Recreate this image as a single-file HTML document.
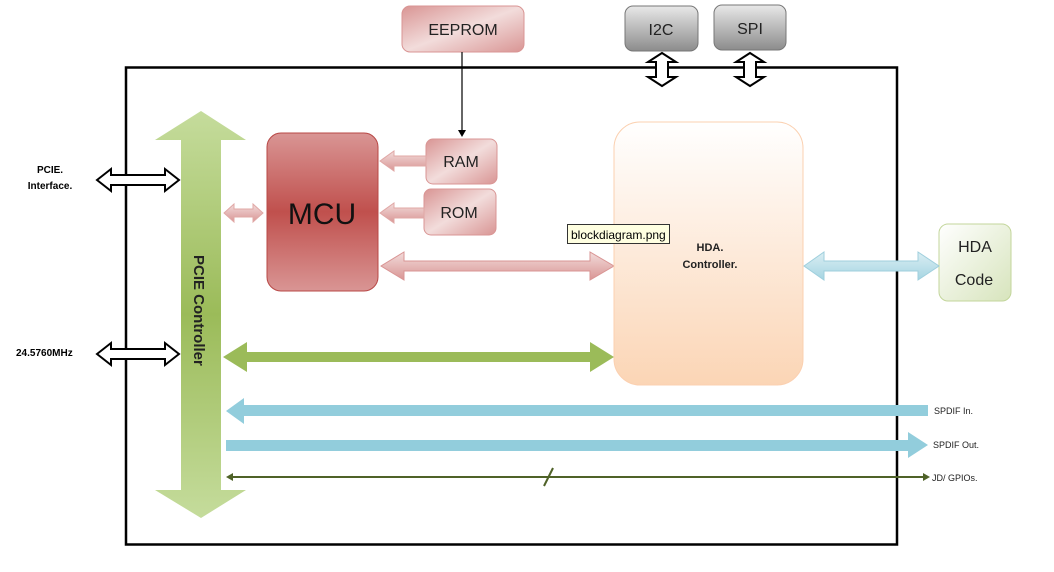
<!DOCTYPE html>
<html><head><meta charset="utf-8"><style>
html,body{margin:0;padding:0;background:#fff;}
svg{display:block;font-family:"Liberation Sans",sans-serif;}
</style></head><body>
<svg width="1054" height="572" viewBox="0 0 1054 572" xmlns="http://www.w3.org/2000/svg">
<defs>
<linearGradient id="gpc" x1="0" y1="0" x2="0" y2="1"><stop offset="0" stop-color="#c5dc9c"/><stop offset="0.5" stop-color="#9bbb59"/><stop offset="1" stop-color="#c5dc9c"/></linearGradient>
<linearGradient id="gmcu" x1="0" y1="0" x2="0" y2="1"><stop offset="0" stop-color="#d99594"/><stop offset="0.5" stop-color="#c0504d"/><stop offset="1" stop-color="#d99594"/></linearGradient>
<linearGradient id="gpink" x1="0" y1="0" x2="1" y2="1"><stop offset="0" stop-color="#d99594"/><stop offset="0.5" stop-color="#f2dcdb"/><stop offset="1" stop-color="#d99594"/></linearGradient>
<linearGradient id="ggray" x1="0" y1="0" x2="0" y2="1"><stop offset="0" stop-color="#e8e8e8"/><stop offset="1" stop-color="#8c8c8c"/></linearGradient>
<linearGradient id="ghda" x1="0" y1="0" x2="0" y2="1"><stop offset="0" stop-color="#fff"/><stop offset="1" stop-color="#fbd5b5"/></linearGradient>
<linearGradient id="gcode" x1="0" y1="0" x2="1" y2="1"><stop offset="0" stop-color="#fff"/><stop offset="1" stop-color="#d7e4bc"/></linearGradient>
<linearGradient id="gpa" x1="0" y1="0" x2="0" y2="1"><stop offset="0" stop-color="#f2dcdb"/><stop offset="1" stop-color="#d99594"/></linearGradient>
<linearGradient id="gba" x1="0" y1="0" x2="0" y2="1"><stop offset="0" stop-color="#dbeef3"/><stop offset="1" stop-color="#a5d5e2"/></linearGradient>
</defs>

<!-- main box -->
<rect x="126" y="67.5" width="771" height="477" fill="none" stroke="#000" stroke-width="2.5"/>

<!-- EEPROM -->
<rect x="402" y="6" width="122" height="46" rx="8" fill="url(#gpink)" stroke="#d99594"/>
<text x="463" y="35" font-size="16" text-anchor="middle" fill="#222">EEPROM</text>
<line x1="462" y1="52" x2="462" y2="131" stroke="#000" stroke-width="1.2"/>
<polygon points="458,130 466,130 462,137" fill="#000"/>

<!-- I2C / SPI -->
<rect x="625" y="6" width="73" height="45" rx="8" fill="url(#ggray)" stroke="#777"/>
<text x="661" y="35" font-size="16" text-anchor="middle" fill="#222">I2C</text>
<rect x="714" y="5" width="72" height="45" rx="8" fill="url(#ggray)" stroke="#777"/>
<text x="750" y="34" font-size="16" text-anchor="middle" fill="#222">SPI</text>
<polygon points="662,53 676,62 668,62 668,77 676,77 662,86 648,77 656,77 656,62 648,62" fill="#fff" stroke="#000" stroke-width="2"/>
<polygon points="750,53 764,62 756,62 756,77 764,77 750,86 736,77 744,77 744,62 736,62" fill="#fff" stroke="#000" stroke-width="2"/>

<!-- PCIE controller arrow -->
<polygon points="201,111 246,140 221,140 221,490 246,490 201,518 155,490 181,490 181,140 155,140" fill="url(#gpc)"/>
<text transform="translate(194,255) rotate(90)" font-size="15" font-weight="bold" fill="#222">PCIE Controller</text>

<!-- outline arrows left -->
<polygon points="97,180 111,169 111,175 165,175 165,169 179,180 165,191 165,185 111,185 111,191" fill="#fff" stroke="#000" stroke-width="2"/>
<polygon points="97,354 111,343 111,349 165,349 165,343 179,354 165,365 165,359 111,359 111,365" fill="#fff" stroke="#000" stroke-width="2"/>
<text x="50" y="173" font-size="10" font-weight="bold" text-anchor="middle">PCIE.</text>
<text x="50" y="189" font-size="10" font-weight="bold" text-anchor="middle">Interface.</text>
<text x="16" y="356" font-size="10" font-weight="bold">24.5760MHz</text>

<!-- MCU -->
<rect x="267" y="133" width="111" height="158" rx="14" fill="url(#gmcu)" stroke="#b84846"/>
<text x="322" y="224" font-size="30" text-anchor="middle" fill="#111">MCU</text>

<!-- RAM ROM -->
<rect x="426" y="139" width="71" height="45" rx="7" fill="url(#gpink)" stroke="#d99594"/>
<text x="461" y="167" font-size="16" text-anchor="middle" fill="#222">RAM</text>
<rect x="424" y="189" width="72" height="46" rx="7" fill="url(#gpink)" stroke="#d99594"/>
<text x="459" y="218" font-size="16" text-anchor="middle" fill="#222">ROM</text>
<polygon points="380,161 394,151 394,156 426,156 426,166 394,166 394,171" fill="url(#gpa)" stroke="#e0a8a6"/>
<polygon points="380,213 394,203 394,208 424,208 424,218 394,218 394,223" fill="url(#gpa)" stroke="#e0a8a6"/>
<!-- small pcie-mcu -->
<polygon points="224,213 234,204 234,209 253,209 253,204 263,213 253,222 253,217 234,217 234,222" fill="url(#gpa)" stroke="#e0a8a6"/>
<!-- MCU-HDA -->
<polygon points="381,266 404,252 404,261 590,261 590,252 614,266 590,280 590,271 404,271 404,280" fill="url(#gpa)" stroke="#d99594"/>

<!-- HDA controller -->
<rect x="614" y="122" width="189" height="263" rx="26" fill="url(#ghda)" stroke="#fbd0b0"/>
<text x="710" y="251" font-size="11" font-weight="bold" text-anchor="middle" fill="#222">HDA.</text>
<text x="710" y="268" font-size="11" font-weight="bold" text-anchor="middle" fill="#222">Controller.</text>

<!-- tooltip -->
<rect x="567.5" y="224.5" width="102" height="19" fill="#ffffe1" stroke="#333"/>
<text x="571" y="239" font-size="12" fill="#000">blockdiagram.png</text>

<!-- green double -->
<polygon points="223,357 247,342 247,352 590,352 590,342 614,357 590,372 590,362 247,362 247,372" fill="#9bbb59"/>

<!-- HDA code -->
<rect x="939" y="224" width="72" height="77" rx="9" fill="url(#gcode)" stroke="#c3d69b"/>
<text x="975" y="252" font-size="16" text-anchor="middle" fill="#222">HDA</text>
<text x="974" y="285" font-size="16" text-anchor="middle" fill="#222">Code</text>
<polygon points="804,266 824,252 824,261 918,261 918,252 939,266 918,280 918,271 824,271 824,280" fill="url(#gba)" stroke="#9fcfdd"/>

<!-- SPDIF -->
<polygon points="226,411 244,398 244,405 928,405 928,416 244,416 244,424" fill="#92cddc"/>
<polygon points="226,440 908,440 908,432 928,445 908,458 908,451 226,451" fill="#92cddc"/>
<text x="934" y="414" font-size="9" fill="#222">SPDIF In.</text>
<text x="933" y="448" font-size="9" fill="#222">SPDIF Out.</text>

<!-- JD line -->
<line x1="229" y1="477" x2="926" y2="477" stroke="#4f6228" stroke-width="2"/>
<polygon points="226,477 233,473 233,481" fill="#4f6228"/>
<polygon points="930,477 923,473 923,481" fill="#4f6228"/>
<line x1="544" y1="486" x2="553" y2="468" stroke="#4f6228" stroke-width="2"/>
<text x="932" y="481" font-size="9" fill="#222">JD/ GPIOs.</text>
</svg>
</body></html>
